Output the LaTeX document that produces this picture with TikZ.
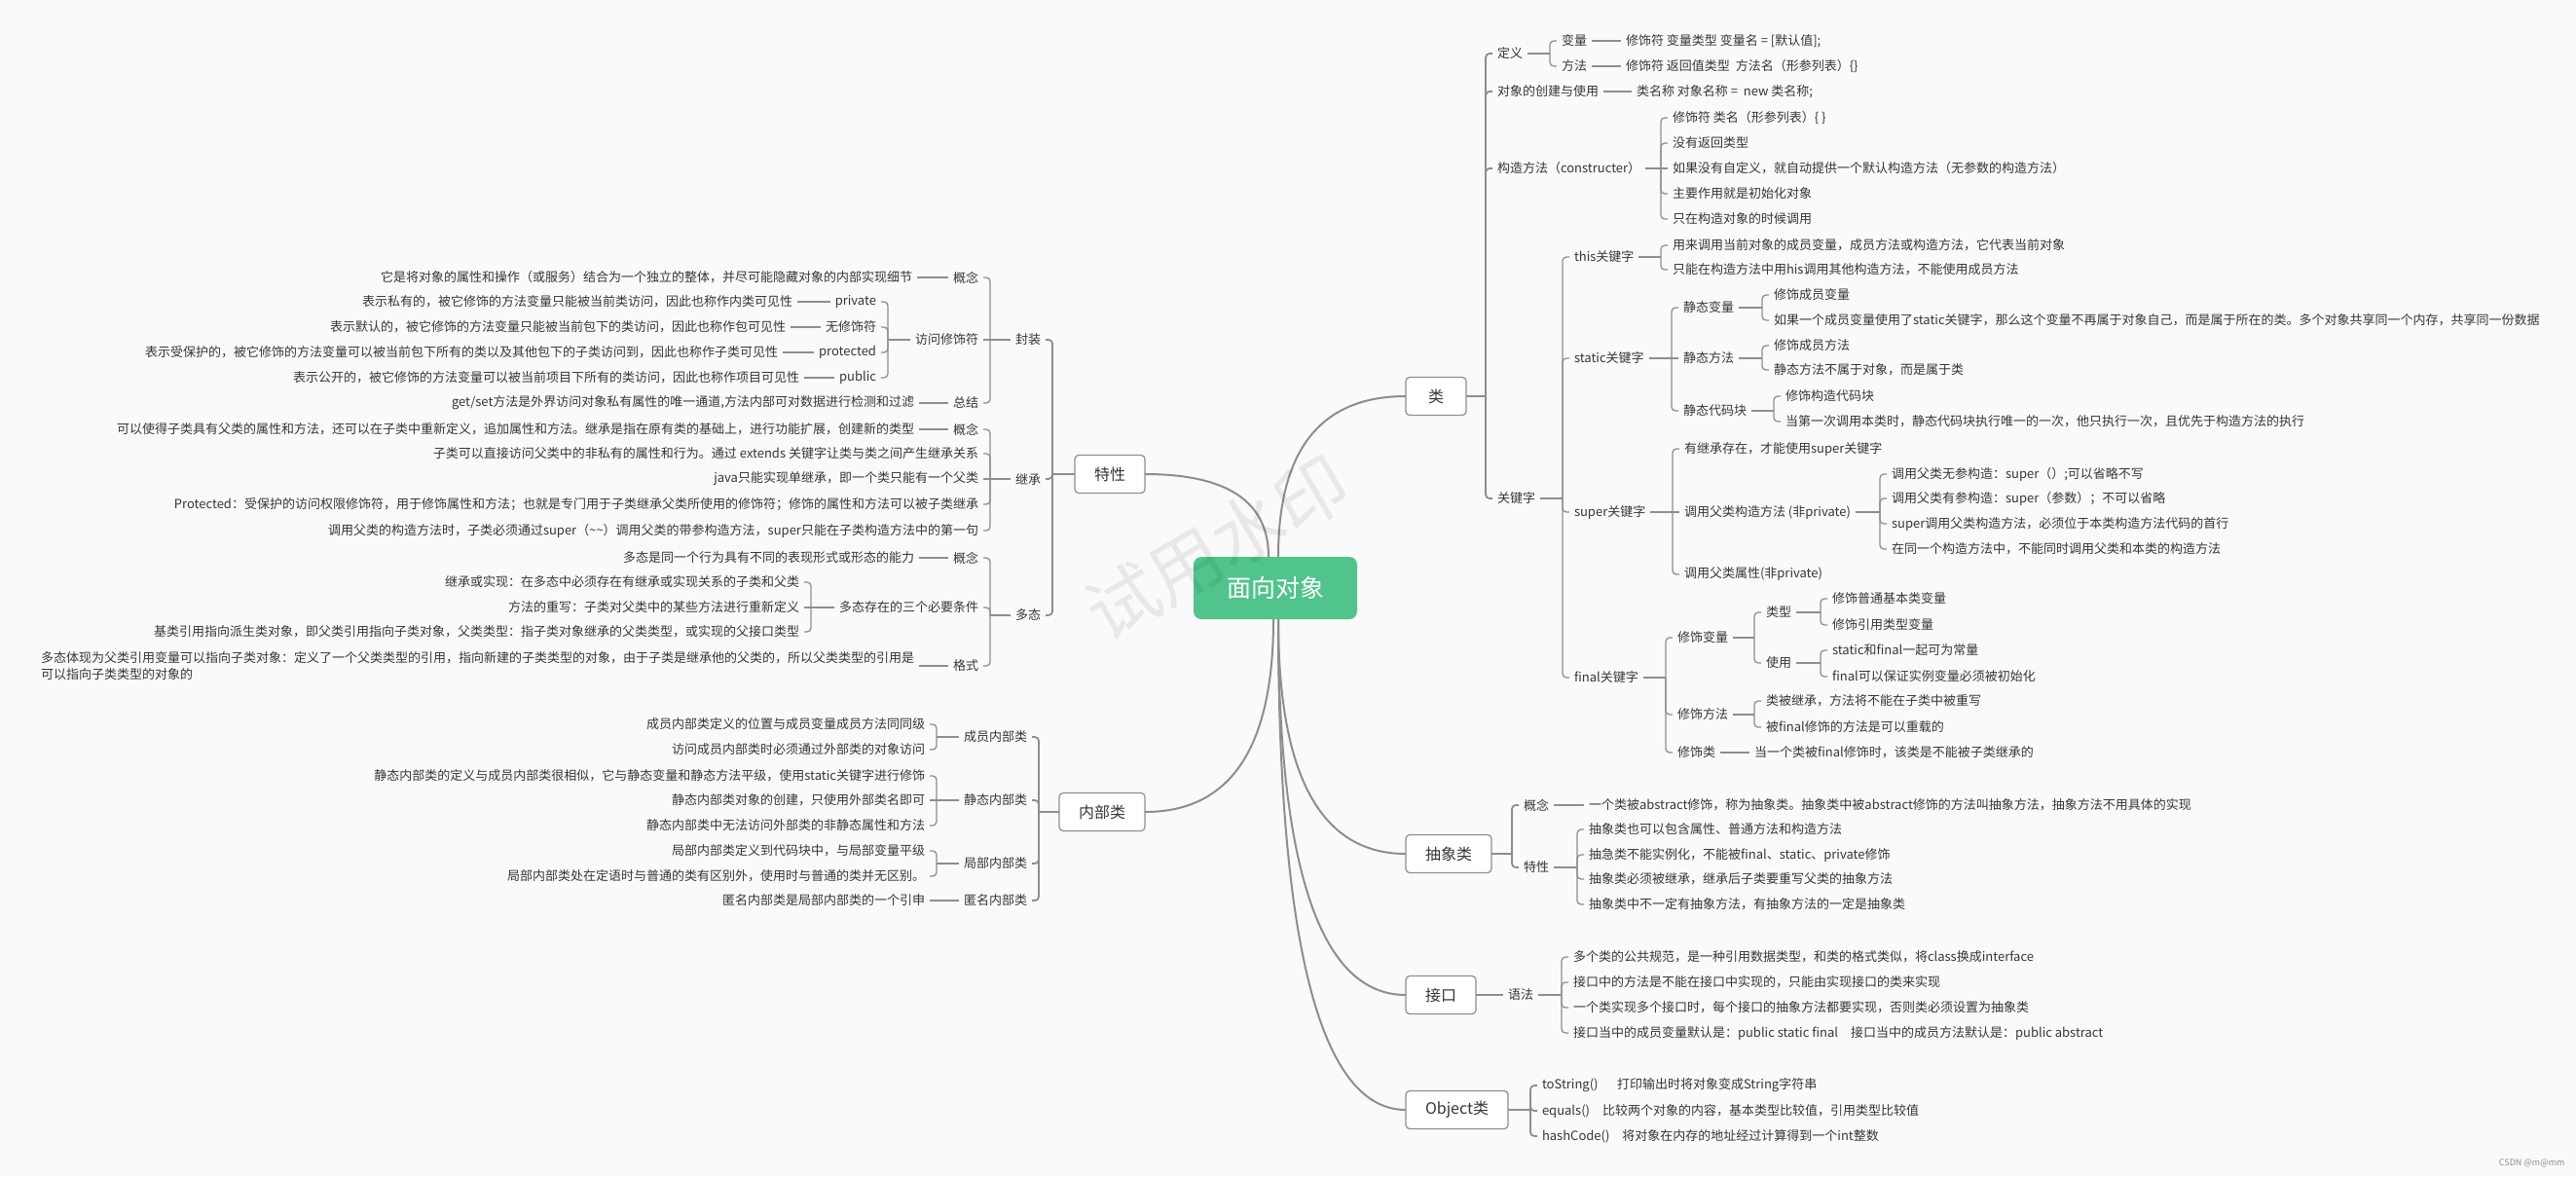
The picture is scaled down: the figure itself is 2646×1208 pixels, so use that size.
\documentclass[tikz,border=0pt]{standalone}
\usepackage{fontspec}
\setmainfont{Noto Sans CJK SC}
\usetikzlibrary{calc}
\definecolor{bgc}{HTML}{FAFAFA}
\definecolor{lnc}{HTML}{8E8E8E}
\definecolor{txc}{HTML}{363636}
\definecolor{rootg}{HTML}{50C48C}
\newcommand\RB[3][7]{%
  \draw[lk] (#2.east) -- ($(#2.east -| #3.west)+(-#1,0)$);
  \draw[lk,rounded corners=4pt] ($(#2.east -| #3.west)+(-#1,0)$) |- (#3.west);}
\newcommand\LB[3][7]{%
  \draw[lk] (#2.west) -- ($(#2.west -| #3.east)+(#1,0)$);
  \draw[lk,rounded corners=4pt] ($(#2.west -| #3.east)+(#1,0)$) |- (#3.east);}
\newcommand\RS[2]{\draw[lk] (#1.east) -- (#2.west);}
\newcommand\LS[2]{\draw[lk] (#1.west) -- (#2.east);}
\newcommand\MC[2]{\draw[mlk] (#1) .. controls ($(#1)!0.667!(#1 |- #2)$) and ($(#2)!0.667!(#1 |- #2)$) .. (#2);}
\begin{document}
\begin{tikzpicture}[x=1pt,y=-1pt,
  txt/.style={font=\fontsize{13}{16}\selectfont, text=txc, inner xsep=5pt, inner ysep=2pt, outer sep=0pt},
  R/.style={txt, anchor=west, xshift=-5pt},
  L/.style={txt, anchor=east, xshift=5pt},
  topic/.style={draw=lnc, line width=1.2pt, rounded corners=4pt, fill=white, minimum height=39pt, minimum width=62pt, inner xsep=20pt, outer sep=0pt, font=\fontsize{16}{18}\selectfont, text=txc},
  root/.style={fill=rootg, rounded corners=8pt, minimum width=168pt, minimum height=64pt, text=white, font=\fontsize{25}{28}\selectfont},
  lk/.style={draw=lnc, line width=1.3pt},
  mlk/.style={draw=lnc, line width=2pt}]
\fill[bgc] (0,0) rectangle (2646,1208);
\useasboundingbox (0,0) rectangle (2646,1208);

% ---------- root and topics ----------
\node[root] (root) at (1310,604) {面向对象};
\coordinate (rtL) at ($(root.north)+(-7,0)$);
\coordinate (rtR) at ($(root.north)+(3,0)$);
\coordinate (rbL) at ($(root.south)+(-2,0)$);
\coordinate (rbR) at ($(root.south)+(3,0)$);
\node[topic, anchor=west] (lei) at (1444,407) {类};
\node[topic, anchor=west] (cx) at (1444,877) {抽象类};
\node[topic, anchor=west] (jk) at (1444,1022) {接口};
\node[topic, anchor=west] (obj) at (1444,1140) {Object类};
\node[topic, anchor=east] (txing) at (1176,487) {特性};
\node[topic, anchor=east] (nbl) at (1176,834) {内部类};
\MC{rtR}{lei.west}
\MC{rtL}{txing.east}
\MC{rbL}{nbl.east}
\MC{rbR}{cx.west}
\MC{rbR}{jk.west}
\MC{rbR}{obj.west}

% ---------- 类 ----------
\node[R] (dy) at (1538,55) {定义};
\node[R] (bl) at (1604,42) {变量};
\node[R] (bl1) at (1670,42) {修饰符 变量类型 变量名 = [默认值];};
\node[R] (ff) at (1604,68) {方法};
\node[R] (ff1) at (1670,68) {修饰符 返回值类型\ \ 方法名（形参列表）\{\}};
\node[R] (cj) at (1538,94) {对象的创建与使用};
\node[R] (cj1) at (1681,94) {类名称 对象名称 =\ \ new 类名称;};
\node[R] (gz) at (1538,173) {构造方法（constructer）};
\node[R] (gz1) at (1718,121) {修饰符 类名（形参列表）\{ \}};
\node[R] (gz2) at (1718,147) {没有返回类型};
\node[R] (gz3) at (1718,173) {如果没有自定义，就自动提供一个默认构造方法（无参数的构造方法）};
\node[R] (gz4) at (1718,199) {主要作用就是初始化对象};
\node[R] (gz5) at (1718,225) {只在构造对象的时候调用};
\node[R] (gjz) at (1538,512) {关键字};
\node[R] (th) at (1617,264) {this关键字};
\node[R] (th1) at (1718,252) {用来调用当前对象的成员变量，成员方法或构造方法，它代表当前对象};
\node[R] (th2) at (1718,277) {只能在构造方法中用his调用其他构造方法，不能使用成员方法};
\node[R] (st) at (1617,368) {static关键字};
\node[R] (jtbl) at (1729,316) {静态变量};
\node[R] (jtbl1) at (1822,303) {修饰成员变量};
\node[R] (jtbl2) at (1822,329) {如果一个成员变量使用了static关键字，那么这个变量不再属于对象自己，而是属于所在的类。多个对象共享同一个内存，共享同一份数据};
\node[R] (jtff) at (1729,368) {静态方法};
\node[R] (jtff1) at (1822,355) {修饰成员方法};
\node[R] (jtff2) at (1822,380) {静态方法不属于对象，而是属于类};
\node[R] (jtdm) at (1729,422) {静态代码块};
\node[R] (jtdm1) at (1834,407) {修饰构造代码块};
\node[R] (jtdm2) at (1834,433) {当第一次调用本类时，静态代码块执行唯一的一次，他只执行一次，且优先于构造方法的执行};
\node[R] (sp) at (1617,526) {super关键字};
\node[R] (sp1) at (1730,461) {有继承存在，才能使用super关键字};
\node[R] (sp2) at (1730,526) {调用父类构造方法 (非private)};
\node[R] (sp21) at (1943,487) {调用父类无参构造：super（）;可以省略不写};
\node[R] (sp22) at (1943,512) {调用父类有参构造：super（参数）；不可以省略};
\node[R] (sp23) at (1943,538) {super调用父类构造方法，必须位于本类构造方法代码的首行};
\node[R] (sp24) at (1943,564) {在同一个构造方法中，不能同时调用父类和本类的构造方法};
\node[R] (sp3) at (1730,590) {调用父类属性(非private)};
\node[R] (fn) at (1617,696) {final关键字};
\node[R] (xsbl) at (1723,655) {修饰变量};
\node[R] (lx) at (1814,629) {类型};
\node[R] (lx1) at (1882,615) {修饰普通基本类变量};
\node[R] (lx2) at (1882,642) {修饰引用类型变量};
\node[R] (sy) at (1814,681) {使用};
\node[R] (sy1) at (1882,668) {static和final一起可为常量};
\node[R] (sy2) at (1882,695) {final可以保证实例变量必须被初始化};
\node[R] (xsff) at (1723,734) {修饰方法};
\node[R] (xsff1) at (1814,720) {类被继承，方法将不能在子类中被重写};
\node[R] (xsff2) at (1814,747) {被final修饰的方法是可以重载的};
\node[R] (xsl) at (1723,773) {修饰类};
\node[R] (xsl1) at (1802,773) {当一个类被final修饰时，该类是不能被子类继承的};

\begin{scope}[lk/.style={draw=lnc, line width=1.8pt}]
\RB{lei}{dy} \RB{lei}{cj} \RB{lei}{gz} \RB{lei}{gjz}
\end{scope}
\RB{dy}{bl} \RB{dy}{ff} \RS{bl}{bl1} \RS{ff}{ff1} \RS{cj}{cj1}
\RB{gz}{gz1} \RB{gz}{gz2} \RS{gz}{gz3} \RB{gz}{gz4} \RB{gz}{gz5}
\RB{gjz}{th} \RB{gjz}{st} \RB{gjz}{sp} \RB{gjz}{fn}
\RB{th}{th1} \RB{th}{th2}
\RB{st}{jtbl} \RS{st}{jtff} \RB{st}{jtdm}
\RB{jtbl}{jtbl1} \RB{jtbl}{jtbl2}
\RB{jtff}{jtff1} \RB{jtff}{jtff2}
\RB{jtdm}{jtdm1} \RB{jtdm}{jtdm2}
\RB{sp}{sp1} \RS{sp}{sp2} \RB{sp}{sp3}
\RB{sp2}{sp21} \RB{sp2}{sp22} \RB{sp2}{sp23} \RB{sp2}{sp24}
\RB{fn}{xsbl} \RB{fn}{xsff} \RB{fn}{xsl}
\RB{xsbl}{lx} \RB{xsbl}{sy}
\RB{lx}{lx1} \RB{lx}{lx2}
\RB{sy}{sy1} \RB{sy}{sy2}
\RB{xsff}{xsff1} \RB{xsff}{xsff2}
\RS{xsl}{xsl1}

% ---------- 抽象类 ----------
\node[R] (cxgn) at (1565,827) {概念};
\node[R] (cxgn1) at (1632,827) {一个类被abstract修饰，称为抽象类。抽象类中被abstract修饰的方法叫抽象方法，抽象方法不用具体的实现};
\node[R] (cxtx) at (1565,891) {特性};
\node[R] (cxtx1) at (1632,852) {抽象类也可以包含属性、普通方法和构造方法};
\node[R] (cxtx2) at (1632,878) {抽急类不能实例化，不能被final、static、private修饰};
\node[R] (cxtx3) at (1632,903) {抽象类必须被继承，继承后子类要重写父类的抽象方法};
\node[R] (cxtx4) at (1632,929) {抽象类中不一定有抽象方法，有抽象方法的一定是抽象类};
\begin{scope}[lk/.style={draw=lnc, line width=1.8pt}]
\RB{cx}{cxgn} \RB{cx}{cxtx}
\end{scope}
\RS{cxgn}{cxgn1}
\RB{cxtx}{cxtx1} \RB{cxtx}{cxtx2} \RB{cxtx}{cxtx3} \RB{cxtx}{cxtx4}

% ---------- 接口 ----------
\node[R] (yf) at (1549,1022) {语法};
\node[R] (yf1) at (1616,983) {多个类的公共规范，是一种引用数据类型，和类的格式类似，将class换成interface};
\node[R] (yf2) at (1616,1009) {接口中的方法是不能在接口中实现的，只能由实现接口的类来实现};
\node[R] (yf3) at (1616,1035) {一个类实现多个接口时，每个接口的抽象方法都要实现，否则类必须设置为抽象类};
\node[R] (yf4) at (1616,1061) {接口当中的成员变量默认是：public static final\hspace{1em}接口当中的成员方法默认是：public abstract};
\draw[lnc, line width=1.8pt] (jk.east) -- (yf.west);
\RB{yf}{yf1} \RB{yf}{yf2} \RB{yf}{yf3} \RB{yf}{yf4}

% ---------- Object类 ----------
\node[R] (ob1) at (1584,1115) {toString()\hspace{1.5em}打印输出时将对象变成String字符串};
\node[R] (ob2) at (1584,1141) {equals()\hspace{1em}比较两个对象的内容，基本类型比较值，引用类型比较值};
\node[R] (ob3) at (1584,1167) {hashCode()\hspace{1em}将对象在内存的地址经过计算得到一个int整数};
\begin{scope}[lk/.style={draw=lnc, line width=1.8pt}]
\RB{obj}{ob1} \RB{obj}{ob2} \RB{obj}{ob3}
\end{scope}

% ---------- 特性 ----------
\node[L] (fz) at (1069,349) {封装};
\node[L] (fzgn) at (1005,285) {概念};
\node[L] (fzgn1) at (937,285) {它是将对象的属性和操作（或服务）结合为一个独立的整体，并尽可能隐藏对象的内部实现细节};
\node[L] (fwx) at (1005,349) {访问修饰符};
\node[L] (pv) at (900,310) {private};
\node[L] (pv1) at (814,310) {表示私有的，被它修饰的方法变量只能被当前类访问，因此也称作内类可见性};
\node[L] (wx) at (900,336) {无修饰符};
\node[L] (wx1) at (807,336) {表示默认的，被它修饰的方法变量只能被当前包下的类访问，因此也称作包可见性};
\node[L] (pt) at (900,362) {protected};
\node[L] (pt1) at (799,362) {表示受保护的，被它修饰的方法变量可以被当前包下所有的类以及其他包下的子类访问到，因此也称作子类可见性};
\node[L] (pb) at (900,388) {public};
\node[L] (pb1) at (821,388) {表示公开的，被它修饰的方法变量可以被当前项目下所有的类访问，因此也称作项目可见性};
\node[L] (zj) at (1005,414) {总结};
\node[L] (zj1) at (939,414) {get/set方法是外界访问对象私有属性的唯一通道,方法内部可对数据进行检测和过滤};
\node[L] (jc) at (1069,492) {继承};
\node[L] (jcgn) at (1005,441) {概念};
\node[L] (jcgn1) at (939,441) {可以使得子类具有父类的属性和方法，还可以在子类中重新定义，追加属性和方法。继承是指在原有类的基础上，进行功能扩展，创建新的类型};
\node[L] (jc2) at (1005,466) {子类可以直接访问父类中的非私有的属性和行为。通过 extends 关键字让类与类之间产生继承关系};
\node[L] (jc3) at (1005,492) {java只能实现单继承，即一个类只能有一个父类};
\node[L] (jc4) at (1005,518) {Protected：受保护的访问权限修饰符，用于修饰属性和方法；也就是专门用于子类继承父类所使用的修饰符；修饰的属性和方法可以被子类继承};
\node[L] (jc5) at (1005,545) {调用父类的构造方法时，子类必须通过super（\textasciitilde\textasciitilde）调用父类的带参构造方法，super只能在子类构造方法中的第一句};
\node[L] (dt) at (1069,632) {多态};
\node[L] (dtgn) at (1005,573) {概念};
\node[L] (dtgn1) at (939,573) {多态是同一个行为具有不同的表现形式或形态的能力};
\node[L] (tj) at (1005,624) {多态存在的三个必要条件};
\node[L] (tj1) at (821,598) {继承或实现：在多态中必须存在有继承或实现关系的子类和父类};
\node[L] (tj2) at (821,624) {方法的重写：子类对父类中的某些方法进行重新定义};
\node[L] (tj3) at (821,649) {基类引用指向派生类对象，即父类引用指向子类对象，父类类型：指子类对象继承的父类类型，或实现的父接口类型};
\node[L] (gs) at (1005,684) {格式};
\node[L, align=left, font=\fontsize{13}{17}\selectfont] (gs1) at (939,684) {多态体现为父类引用变量可以指向子类对象：定义了一个父类类型的引用，指向新建的子类类型的对象，由于子类是继承他的父类的，所以父类类型的引用是\\可以指向子类类型的对象的};

\begin{scope}[lk/.style={draw=lnc, line width=1.8pt}]
\LB{txing}{fz} \LB{txing}{jc} \LB{txing}{dt}
\end{scope}
\LB{fz}{fzgn} \LS{fz}{fwx} \LB{fz}{zj}
\LS{fzgn}{fzgn1} \LS{zj}{zj1}
\LB{fwx}{pv} \LB{fwx}{wx} \LB{fwx}{pt} \LB{fwx}{pb}
\LS{pv}{pv1} \LS{wx}{wx1} \LS{pt}{pt1} \LS{pb}{pb1}
\LB{jc}{jcgn} \LB{jc}{jc2} \LS{jc}{jc3} \LB{jc}{jc4} \LB{jc}{jc5}
\LS{jcgn}{jcgn1}
\LB{dt}{dtgn} \LB{dt}{tj} \LB{dt}{gs}
\LS{dtgn}{dtgn1}
\LB{tj}{tj1} \LS{tj}{tj2} \LB{tj}{tj3}
\LS{gs}{gs1}

% ---------- 内部类 ----------
\node[L] (cy) at (1055,757) {成员内部类};
\node[L] (cy1) at (950,744) {成员内部类定义的位置与成员变量成员方法同同级};
\node[L] (cy2) at (950,770) {访问成员内部类时必须通过外部类的对象访问};
\node[L] (jt) at (1055,822) {静态内部类};
\node[L] (jt1) at (950,797) {静态内部类的定义与成员内部类很相似，它与静态变量和静态方法平级，使用static关键字进行修饰};
\node[L] (jt2) at (950,822) {静态内部类对象的创建，只使用外部类名即可};
\node[L] (jt3) at (950,848) {静态内部类中无法访问外部类的非静态属性和方法};
\node[L] (jb) at (1055,887) {局部内部类};
\node[L] (jb1) at (950,874) {局部内部类定义到代码块中，与局部变量平级};
\node[L] (jb2) at (950,900) {局部内部类处在定语时与普通的类有区别外，使用时与普通的类并无区别。};
\node[L] (nm) at (1055,925) {匿名内部类};
\node[L] (nm1) at (950,925) {匿名内部类是局部内部类的一个引申};
\begin{scope}[lk/.style={draw=lnc, line width=1.8pt}]
\LB{nbl}{cy} \LB{nbl}{jt} \LB{nbl}{jb} \LB{nbl}{nm}
\end{scope}
\LB{cy}{cy1} \LB{cy}{cy2}
\LB{jt}{jt1} \LS{jt}{jt2} \LB{jt}{jt3}
\LB{jb}{jb1} \LB{jb}{jb2}
\LS{nm}{nm1}

% ---------- watermarks ----------
\node[rotate=30, font=\fontsize{74}{80}\selectfont, text=black, opacity=0.07] (wm) at (1250,562) {试用水印};
\node[anchor=east, font=\fontsize{9}{10}\selectfont, text=black!45] (csdn) at (2638,1195) {CSDN @m@mm};
\end{tikzpicture}
\end{document}
